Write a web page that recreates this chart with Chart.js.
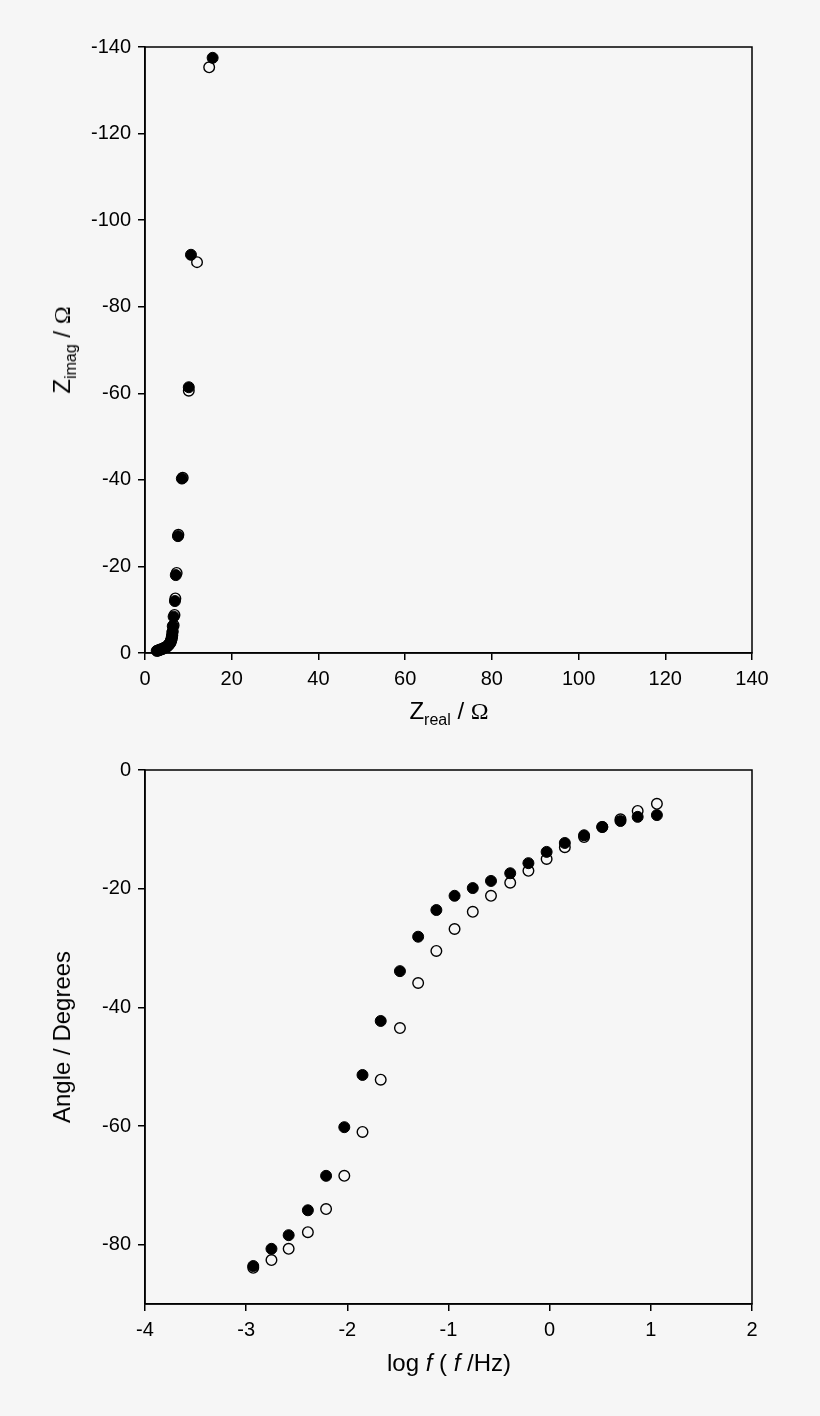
<!DOCTYPE html>
<html>
<head>
<meta charset="utf-8">
<script src="https://cdn.jsdelivr.net/npm/chart.js@4.4.1/dist/chart.umd.min.js"></script>
<style>
  body { margin: 0; background: #f6f6f6; }
  #wrap { position: relative; width: 820px; height: 1416px; font-family: "Liberation Sans", Arial, sans-serif; color: #000; }
  canvas { position: absolute; left: 0; }
  .lbl { position: absolute; font-size: 24px; line-height: 1; white-space: nowrap; }
  .rot { transform: translate(-50%, -50%) rotate(-90deg); }
  .hor { transform: translate(-50%, -50%); }
  .sub { font-size: 16px; position: relative; top: 6px; }
  .om { font-family: "Liberation Serif", serif; }
</style>
</head>
<body>
<div id="wrap">
  <canvas id="nyq" width="820" height="710" style="top:0;width:820px;height:710px"></canvas>
  <canvas id="ang" width="820" height="696" style="top:720px;width:820px;height:696px"></canvas>
  <div class="lbl rot" style="left:62px;top:350px">Z<span class="sub">imag</span> / <span class="om">Ω</span></div>
  <div class="lbl hor" style="left:449px;top:711px">Z<span class="sub">real</span> / <span class="om">Ω</span></div>
  <div class="lbl rot" style="left:62px;top:1037px;font-size:24px">Angle / Degrees</div>
  <div class="lbl hor" style="left:449px;top:1363px;font-size:24px">log <i>f</i> ( <i>f</i> /Hz)</div>
</div>
<script>
// Nyquist plot, filled and open symbols
const zRealFilled = [15.6, 10.6, 10.1, 8.5, 7.6, 7.1, 6.9, 6.6, 6.4, 6.3, 6.2, 6.1, 6.0, 5.8, 5.6, 5.4, 5.1, 4.7, 4.3, 3.9, 3.5, 3.1, 2.7];
const zImagFilled = [-137.5, -92.0, -61.4, -40.3, -27.0, -18.0, -12.0, -8.4, -6.2, -4.8, -3.9, -3.3, -2.8, -2.4, -2.1, -1.8, -1.5, -1.3, -1.1, -0.9, -0.8, -0.6, -0.5];
const zRealOpen = [14.8, 12.0, 10.1, 8.7, 7.7, 7.3, 7.0, 6.8, 6.6, 6.4, 6.3, 6.2, 6.0, 5.9, 5.7, 5.5, 5.2, 4.9, 4.5, 4.1, 3.7, 3.3, 2.9];
const zImagOpen = [-135.3, -90.3, -60.6, -40.5, -27.3, -18.5, -12.6, -8.8, -6.4, -5.0, -4.1, -3.4, -2.9, -2.5, -2.2, -1.9, -1.6, -1.4, -1.2, -1.0, -0.8, -0.7, -0.5];

// Bode phase plot
const logF = [-2.93, -2.75, -2.58, -2.39, -2.21, -2.03, -1.85, -1.67, -1.48, -1.30, -1.12, -0.94, -0.76, -0.58, -0.39, -0.21, -0.03, 0.15, 0.34, 0.52, 0.70, 0.87, 1.06];
const angleFilled = [-83.6, -80.7, -78.4, -74.2, -68.4, -60.2, -51.4, -42.3, -33.9, -28.1, -23.6, -21.2, -19.9, -18.7, -17.4, -15.7, -13.8, -12.3, -11.0, -9.6, -8.6, -7.9, -7.6];
const angleOpen = [-83.9, -82.6, -80.7, -77.9, -74.0, -68.4, -61.0, -52.2, -43.5, -35.9, -30.5, -26.8, -23.9, -21.2, -19.0, -17.0, -15.0, -13.0, -11.3, -9.6, -8.3, -6.9, -5.7];

const xTicksTop = [0, 20, 40, 60, 80, 100, 120, 140];
const yTicksTop = [0, -20, -40, -60, -80, -100, -120, -140];
const xTicksBottom = [-4, -3, -2, -1, 0, 1, 2];
const yTicksBottom = [0, -20, -40, -60, -80];

const bg = '#f6f6f6';
const tickFont = { family: '"Liberation Sans", Arial, sans-serif', size: 20 };

const framePlugin = {
    id: 'frame',
    beforeDatasetsDraw(chart) {
        const a = chart.chartArea;
        const c = chart.ctx;
        c.save();
        c.strokeStyle = '#000';
        c.lineWidth = 1.5;
        c.strokeRect(a.left, a.top, a.right - a.left, a.bottom - a.top);
        c.restore();
    }
};

function pts(xs, ys) {
    return xs.map((x, i) => ({ x: x, y: ys[i] }));
}

function axis(min, max, tickList, extra) {
    return Object.assign({
        type: 'linear',
        min: min,
        max: max,
        afterBuildTicks: s => { s.ticks = tickList.map(v => ({ value: v })); },
        ticks: { font: tickFont, color: '#000', padding: 7, autoSkip: false, maxRotation: 0 },
        grid: { drawOnChartArea: false, drawTicks: true, tickLength: 7, color: '#000', lineWidth: 1.5 },
        border: { display: true, color: '#000', width: 1.5 },
    }, extra);
}

function makeChart(id, filled, open, xScale, yScale, pad) {
    return new Chart(document.getElementById(id), {
        type: 'scatter',
        data: {
            datasets: [{
                data: filled,
                pointRadius: 5.5,
                pointBorderWidth: 1,
                pointBackgroundColor: '#000',
                pointBorderColor: '#000',
                clip: false,
                order: 0,
            }, {
                data: open,
                pointRadius: 5.3,
                pointBorderWidth: 1.4,
                pointBackgroundColor: bg,
                pointBorderColor: '#000',
                clip: false,
                order: 1,
            }]
        },
        options: {
            responsive: false,
            animation: false,
            layout: { padding: pad },
            plugins: { legend: { display: false }, tooltip: { enabled: false } },
            scales: { x: xScale, y: yScale },
        },
        plugins: [framePlugin]
    });
}

makeChart('nyq',
    pts(zRealFilled, zImagFilled),
    pts(zRealOpen, zImagOpen),
    axis(0, 140, xTicksTop, { position: 'bottom', afterFit: s => { s.height = 57; } }),
    axis(-140, 0, yTicksTop, { position: 'left', reverse: true, afterFit: s => { s.width = 145; } }),
    { top: 47, right: 68, left: 0, bottom: 0 });

makeChart('ang',
    pts(logF, angleFilled),
    pts(logF, angleOpen),
    axis(-4, 2, xTicksBottom, { position: 'bottom', afterFit: s => { s.height = 112; } }),
    axis(-90, 0, yTicksBottom, { position: 'left', afterFit: s => { s.width = 145; } }),
    { top: 50, right: 68, left: 0, bottom: 0 });
</script>
</body>
</html>
